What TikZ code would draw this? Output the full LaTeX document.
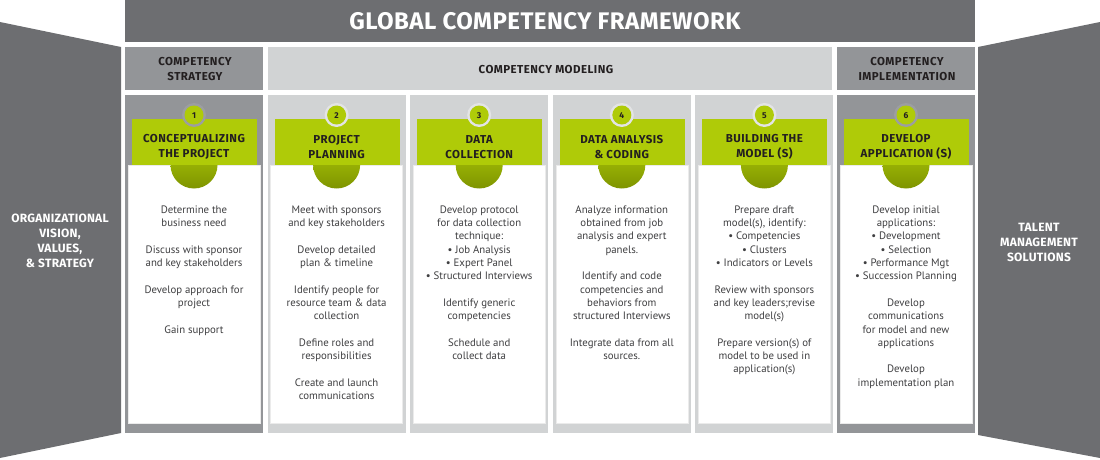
\documentclass[tikz,border=0pt]{standalone}
\usepackage{fontspec}
\setmainfont{PT Sans}
\newfontfamily\hdfont[LetterSpace=4]{Fira Sans}
\newfontfamily\ttlfont[LetterSpace=2]{Fira Sans}
\definecolor{dgray}{HTML}{6D6E71}
\definecolor{mgray}{HTML}{939598}
\definecolor{lgray}{HTML}{D1D3D4}
\definecolor{ringA}{HTML}{9C9EA1}
\definecolor{ringB}{HTML}{E3E4E5}
\definecolor{grn}{HTML}{AFCB08}
\definecolor{grndark}{HTML}{7E9400}
\definecolor{txt}{HTML}{231F20}
\definecolor{bodytxt}{HTML}{3F3F41}
\tikzset{
  bar/.style={fill=dgray},
  hdr/.style={align=center, inner sep=0, text=txt, font=\hdfont\fontsize{11.5}{15}\selectfont\bfseries},
  sidetxt/.style={align=center, inner sep=0, text=white, font=\ttlfont\fontsize{12}{15}\selectfont\bfseries},
  titlestyle/.style={align=center, inner sep=0, text=txt, font=\hdfont\fontsize{11.5}{15}\selectfont\bfseries},
  numstyle/.style={inner sep=0, text=txt, font=\ttlfont\fontsize{8.5}{8.5}\selectfont\bfseries},
  bodystyle/.style={align=center, inner sep=0, text=bodytxt, font=\fontsize{10.8}{13.3}\selectfont},
}
\newcommand\compcol[6]{%
  \pgfmathsetmacro\colL{#2}%
  \pgfmathsetmacro\colR{#2+138}%
  \pgfmathsetmacro\colC{#2+69}%
  \fill[#3] (\colL,95) rectangle (\colR,433);
  \fill[white, draw=black!8] (\colL+3,165) rectangle (\colR-3,423);
  \fill[grn] (\colL+7,119) rectangle (\colR-6,165);
  \fill[#4] (\colC,115) circle (12);
  \fill[grn] (\colC,115) circle (9.5);
  \node[numstyle] (n#1) at (\colC,115.5) {#1};
  \node[titlestyle] (t#1) at (\colC,147) {#5};
  \begin{scope}
    \clip (\colL,165) rectangle (\colR,200);
    \shade[top color=grn, middle color=grn, bottom color=grndark] (\colC,165) circle (23.5);
  \end{scope}
  \node[bodystyle, anchor=north] (b#1) at (\colC,205.5) {#6};
}
\begin{document}
\begin{tikzpicture}[x=1pt,y=-1pt]
\useasboundingbox (0,0) rectangle (1100,460);
% side shapes
\fill[dgray] (0,22) -- (121,47) -- (121,433) -- (0,458) -- cycle;
\fill[dgray] (978,47) -- (1100,22) -- (1100,458) -- (978,435) -- cycle;
\node[sidetxt] (left) at (60,240.5) {ORGANIZATIONAL\\VISION,\\VALUES,\\\& STRATEGY};
\node[sidetxt] (right) at (1039,242) {TALENT\\MANAGEMENT\\SOLUTIONS};
% title
\fill[bar] (125,0) rectangle (975,42);
\node[inner sep=0, text=white, font=\ttlfont\fontsize{24}{24}\selectfont\bfseries] (title) at (545,21.5) {GLOBAL COMPETENCY FRAMEWORK};
% headers
\fill[mgray] (125,47) rectangle (263,90);
\fill[lgray] (268,47) rectangle (832,90);
\fill[mgray] (837,47) rectangle (975,90);
\node[hdr] (hs) at (195,69.5) {COMPETENCY\\STRATEGY};
\node[hdr] (hm) at (546,69.5) {COMPETENCY MODELING};
\node[hdr] (hi) at (907,69.5) {COMPETENCY\\IMPLEMENTATION};
% columns
\compcol{1}{125}{mgray}{ringA}{CONCEPTUALIZING\\THE PROJECT}{Determine the\\business need\\[13.3pt]Discuss with sponsor\\and key stakeholders\\[13.3pt]Develop approach for\\project\\[13.3pt]Gain support}
\compcol{2}{267.6}{lgray}{ringB}{PROJECT\\PLANNING}{Meet with sponsors\\and key stakeholders\\[13.3pt]Develop detailed\\plan \& timeline\\[13.3pt]Identify people for\\resource team \& data\\collection\\[13.3pt]Define roles and\\responsibilities\\[13.3pt]Create and launch\\communications}
\compcol{3}{410.2}{lgray}{ringB}{DATA\\COLLECTION}{Develop protocol\\for data collection\\technique:\\• Job Analysis\\• Expert Panel\\• Structured Interviews\\[13.3pt]Identify generic\\competencies\\[13.3pt]Schedule and\\collect data}
\compcol{4}{552.8}{lgray}{ringB}{DATA ANALYSIS\\\& CODING}{Analyze information\\obtained from job\\analysis and expert\\panels.\\[13.3pt]Identify and code\\competencies and\\behaviors from\\structured Interviews\\[13.3pt]Integrate data from all\\sources.}
\compcol{5}{695.4}{lgray}{ringB}{BUILDING THE\\MODEL (S)}{Prepare draft\\model(s), identify:\\• Competencies\\• Clusters\\• Indicators or Levels\\[13.3pt]Review with sponsors\\and key leaders;revise\\model(s)\\[13.3pt]Prepare version(s) of\\model to be used in\\application(s)}
\compcol{6}{837}{mgray}{ringA}{DEVELOP\\APPLICATION (S)}{Develop initial\\applications:\\• Development\\• Selection\\• Performance Mgt\\• Succession Planning\\[13.3pt]Develop\\communications\\for model and new\\applications\\[13.3pt]Develop\\implementation plan}
\end{tikzpicture}
\end{document}
